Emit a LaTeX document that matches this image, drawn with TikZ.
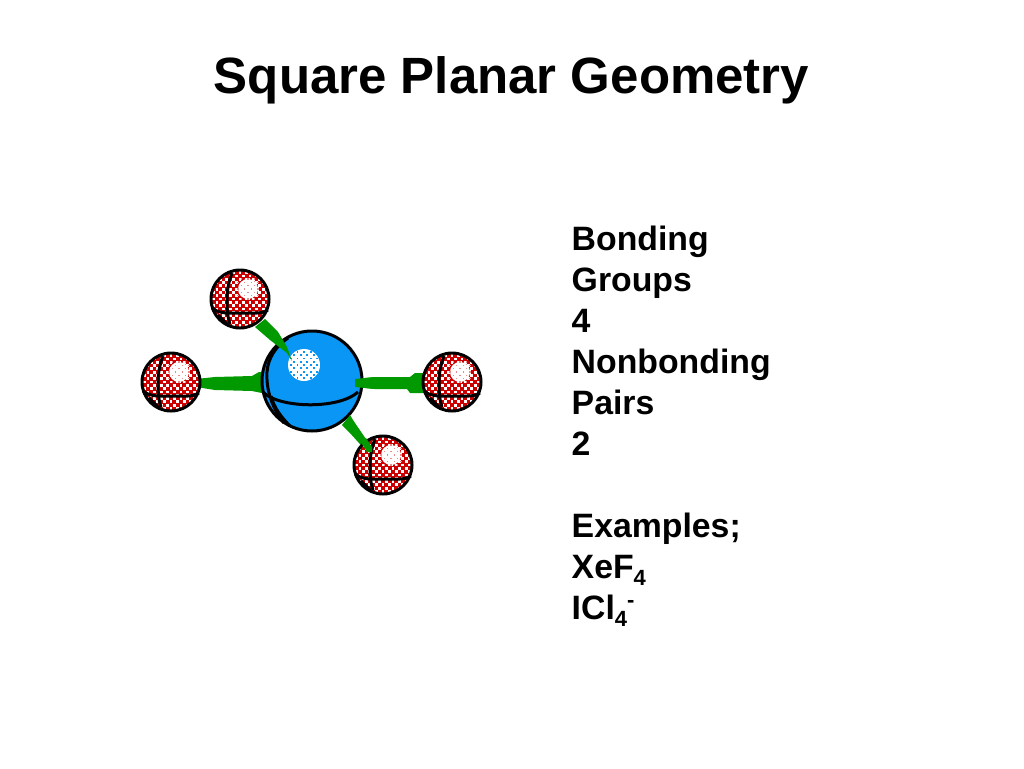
\documentclass[tikz,border=0pt]{standalone}
\usepackage{fontspec}
\setmainfont{Liberation Sans}
\definecolor{atomred}{HTML}{CC0000}
\definecolor{bondgreen}{HTML}{009900}
\definecolor{coreblue}{HTML}{0A96F5}
\tikzset{
  bondshape/.style={fill=bondgreen,draw=none},
  inkline/.style={draw=black,line width=3pt,line join=round},
  headtext/.style={font=\bfseries\fontsize{51}{60}\selectfont,inner sep=0pt,anchor=base},
  bodytext/.style={font=\bfseries\fontsize{33.8}{41}\selectfont,inner sep=0pt,anchor=north west,align=left},
}
\newcommand{\redatom}[3]{%
  \begin{scope}[shift={(#1,#2)}]
    \coordinate (#3) at (0,0);
    \begin{scope}
      \clip (0,0) circle (29);
      \fill[atomred] (-30,-30) rectangle (30,30);
      \foreach \i in {-9,...,9}{\foreach \j in {-9,...,9}{
        \pgfmathtruncatemacro{\odd}{mod(\i+\j+20,2)}
        \ifnum\odd=0 \fill[white] ({\i*3.3-1.4},{\j*3.3-1.4}) rectangle ++(2.8,2.8);\fi
      }}
      \fill[white] (8,-10) circle (10);
      \fill[white] (-1,-12) rectangle (19,-8);
      \fill[white] (6,-21) rectangle (10,1);
      \foreach \i in {-3,...,3}{\foreach \j in {-3,...,3}{
        \pgfmathtruncatemacro{\odd}{mod(\i+\j+20,2)}
        \ifnum\odd=1 \fill[atomred!45!white] ({8+\i*3.3-0.7},{-10+\j*3.3-0.7}) rectangle ++(1.4,1.4);\fi
      }}
    \end{scope}
    \draw[inkline] (-8,-26) .. controls (-12,-16) and (-13,-6) .. (-13,0) .. controls (-13,8) and (-13,16) .. (-10,25);
    \draw[inkline] (-28,9) .. controls (-22,14) and (-13,14) .. (-13,14) -- (17,14) .. controls (22,14) and (26,12) .. (28,11);
    \draw[inkline] (-22,16) -- (-13,25);
    \draw[inkline] (0,0) circle (29);
  \end{scope}%
}
\begin{document}
\begin{tikzpicture}[x=1pt,y=-1pt]
  \useasboundingbox (0,0) rectangle (1024,768);
  \fill[white] (0,0) rectangle (1024,768);
  \node[headtext] (title) at (511.5,93) {Square Planar Geometry};
  \node[bodytext] (info) at (571.5,226) {Bonding\\Groups\\4\\Nonbonding\\Pairs\\2\\[41pt]Examples;\\XeF\raisebox{-7pt}{\fontsize{22}{22}\selectfont 4}\\ICl\raisebox{-7pt}{\fontsize{22}{22}\selectfont 4}\raisebox{12pt}{\fontsize{22}{22}\selectfont -}};

  % bonds behind the outer atoms
  \fill[bondshape] (196,379) -- (215,377) -- (252,376) -- (259,372) -- (262,372) -- (262,393) -- (252,391) -- (215,390) -- (196,387) -- cycle;
  \fill[bondshape] (407,389) -- (375,389) -- (355,387) -- (355,379) -- (375,377) -- (410,377) -- (415,373) -- (425,373) -- (425,393) -- (410,393) -- cycle;

  % central atom
  \coordinate (core) at (312,381);
  \fill[coreblue] (core) circle (50);
  \begin{scope}
    \clip (304,365) circle (16);
    \fill[white] (284,345) rectangle (324,385);
    \foreach \i in {-5,...,5}{\foreach \j in {-5,...,5}{
      \pgfmathtruncatemacro{\odd}{mod(\i+\j+20,2)}
      \ifnum\odd=0 \fill[coreblue] ({304+\i*3.3-0.9},{365+\j*3.3-0.9}) rectangle ++(1.8,1.8);\fi
    }}
  \end{scope}
  \draw[inkline] (core) circle (50);
  \draw[inkline] (288,338) .. controls (276,346) and (268,358) .. (267,372) .. controls (266,390) and (272,408) .. (284,423);
  \draw[inkline] (263,392) .. controls (278,408) and (338,410) .. (358,392);
  \draw[inkline] (271,396) .. controls (274,408) and (282,418) .. (290,426);

  % bonds in front of the central atom
  \fill[bondshape] (255,327) -- (265,319) -- (278,332) -- (287,347) -- (292,361) -- (287,353) -- (270,340) -- cycle;
  \fill[bondshape] (350,415) -- (342,425) -- (350,433) -- (367,452) -- (372,452) -- (372,448) -- (353,420) -- cycle;
  \fill[bondshape] (355,379) -- (375,377) -- (375,389) -- (355,387) -- cycle;

  % outer atoms
  \redatom{240}{299}{topatom}
  \redatom{171}{382}{leftatom}
  \redatom{452}{382}{rightatom}
  \redatom{383}{465}{bottomatom}
  % the lower bond overlaps the bottom atom
  \fill[bondshape] (360,441) -- (367,452) -- (372,452) -- (372,447) -- (366,438) -- cycle;
\end{tikzpicture}
\end{document}
